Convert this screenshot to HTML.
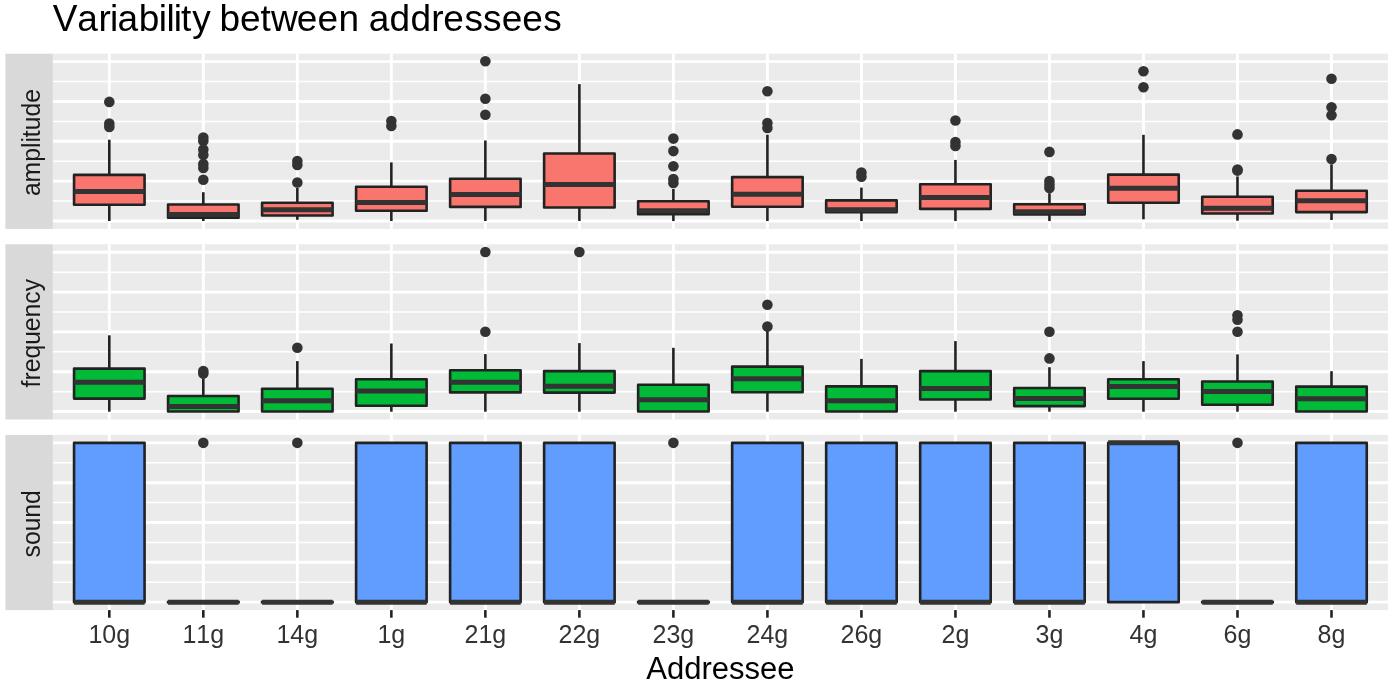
<!DOCTYPE html><html><head><meta charset="utf-8"><title>Variability between addressees</title>
<style>html,body{margin:0;padding:0;background:#fff;}body{width:1393px;height:684px;overflow:hidden;}svg{display:block;}text{font-family:"Liberation Sans",Arial,sans-serif;font-kerning:none;}</style></head><body>
<svg width="1393" height="684" viewBox="0 0 1393 684">
<rect x="0" y="0" width="1393" height="684" fill="#ffffff"/>
<text x="52.7 77.3 98.4 110.1 117.4 138.7 158.8 166.4 173.7 181.1 192.2 210.7 219.4 239.9 260.5 271.0 296.7 317.5 338.5 359.1 368.8 389.5 410.4 431.2 443.2 464.5 483.1 501.8 522.3 543.3" y="31.3" font-size="37" fill="#000000">Variability between addressees</text>
<rect x="5.4" y="53.7" width="47.5" height="175.2" fill="#D9D9D9"/>
<text transform="translate(39.6,142.6) rotate(-90) scale(1,1.05)" x="0" y="0" text-anchor="middle" font-size="24.7" fill="#1A1A1A">amplitude</text>
<rect x="52.9" y="53.7" width="1335" height="175.2" fill="#EBEBEB"/>
<g stroke="#FFFFFF"><line x1="52.9" x2="1387.9" y1="220.94" y2="220.94" stroke-width="2.9"/><line x1="52.9" x2="1387.9" y1="201.03" y2="201.03" stroke-width="1.5"/><line x1="52.9" x2="1387.9" y1="181.12" y2="181.12" stroke-width="2.9"/><line x1="52.9" x2="1387.9" y1="161.21" y2="161.21" stroke-width="1.5"/><line x1="52.9" x2="1387.9" y1="141.3" y2="141.3" stroke-width="2.9"/><line x1="52.9" x2="1387.9" y1="121.39" y2="121.39" stroke-width="1.5"/><line x1="52.9" x2="1387.9" y1="101.48" y2="101.48" stroke-width="2.9"/><line x1="52.9" x2="1387.9" y1="81.57" y2="81.57" stroke-width="1.5"/><line x1="52.9" x2="1387.9" y1="61.66" y2="61.66" stroke-width="2.9"/><line x1="109.31" x2="109.31" y1="53.7" y2="228.9" stroke-width="2.9"/><line x1="203.32" x2="203.32" y1="53.7" y2="228.9" stroke-width="2.9"/><line x1="297.34" x2="297.34" y1="53.7" y2="228.9" stroke-width="2.9"/><line x1="391.35" x2="391.35" y1="53.7" y2="228.9" stroke-width="2.9"/><line x1="485.36" x2="485.36" y1="53.7" y2="228.9" stroke-width="2.9"/><line x1="579.38" x2="579.38" y1="53.7" y2="228.9" stroke-width="2.9"/><line x1="673.39" x2="673.39" y1="53.7" y2="228.9" stroke-width="2.9"/><line x1="767.41" x2="767.41" y1="53.7" y2="228.9" stroke-width="2.9"/><line x1="861.42" x2="861.42" y1="53.7" y2="228.9" stroke-width="2.9"/><line x1="955.44" x2="955.44" y1="53.7" y2="228.9" stroke-width="2.9"/><line x1="1049.45" x2="1049.45" y1="53.7" y2="228.9" stroke-width="2.9"/><line x1="1143.46" x2="1143.46" y1="53.7" y2="228.9" stroke-width="2.9"/><line x1="1237.48" x2="1237.48" y1="53.7" y2="228.9" stroke-width="2.9"/><line x1="1331.49" x2="1331.49" y1="53.7" y2="228.9" stroke-width="2.9"/></g>
<rect x="5.4" y="244.3" width="47.5" height="175.2" fill="#D9D9D9"/>
<text transform="translate(39.6,333.2) rotate(-90) scale(1,1.05)" x="0" y="0" text-anchor="middle" font-size="24.7" fill="#1A1A1A">frequency</text>
<rect x="52.9" y="244.3" width="1335" height="175.2" fill="#EBEBEB"/>
<g stroke="#FFFFFF"><line x1="52.9" x2="1387.9" y1="411.54" y2="411.54" stroke-width="2.9"/><line x1="52.9" x2="1387.9" y1="391.63" y2="391.63" stroke-width="1.5"/><line x1="52.9" x2="1387.9" y1="371.72" y2="371.72" stroke-width="2.9"/><line x1="52.9" x2="1387.9" y1="351.81" y2="351.81" stroke-width="1.5"/><line x1="52.9" x2="1387.9" y1="331.9" y2="331.9" stroke-width="2.9"/><line x1="52.9" x2="1387.9" y1="311.99" y2="311.99" stroke-width="1.5"/><line x1="52.9" x2="1387.9" y1="292.08" y2="292.08" stroke-width="2.9"/><line x1="52.9" x2="1387.9" y1="272.17" y2="272.17" stroke-width="1.5"/><line x1="52.9" x2="1387.9" y1="252.26" y2="252.26" stroke-width="2.9"/><line x1="109.31" x2="109.31" y1="244.3" y2="419.5" stroke-width="2.9"/><line x1="203.32" x2="203.32" y1="244.3" y2="419.5" stroke-width="2.9"/><line x1="297.34" x2="297.34" y1="244.3" y2="419.5" stroke-width="2.9"/><line x1="391.35" x2="391.35" y1="244.3" y2="419.5" stroke-width="2.9"/><line x1="485.36" x2="485.36" y1="244.3" y2="419.5" stroke-width="2.9"/><line x1="579.38" x2="579.38" y1="244.3" y2="419.5" stroke-width="2.9"/><line x1="673.39" x2="673.39" y1="244.3" y2="419.5" stroke-width="2.9"/><line x1="767.41" x2="767.41" y1="244.3" y2="419.5" stroke-width="2.9"/><line x1="861.42" x2="861.42" y1="244.3" y2="419.5" stroke-width="2.9"/><line x1="955.44" x2="955.44" y1="244.3" y2="419.5" stroke-width="2.9"/><line x1="1049.45" x2="1049.45" y1="244.3" y2="419.5" stroke-width="2.9"/><line x1="1143.46" x2="1143.46" y1="244.3" y2="419.5" stroke-width="2.9"/><line x1="1237.48" x2="1237.48" y1="244.3" y2="419.5" stroke-width="2.9"/><line x1="1331.49" x2="1331.49" y1="244.3" y2="419.5" stroke-width="2.9"/></g>
<rect x="5.4" y="434.9" width="47.5" height="175.2" fill="#D9D9D9"/>
<text transform="translate(39.6,523.8) rotate(-90) scale(1,1.05)" x="0" y="0" text-anchor="middle" font-size="24.7" fill="#1A1A1A">sound</text>
<rect x="52.9" y="434.9" width="1335" height="175.2" fill="#EBEBEB"/>
<g stroke="#FFFFFF"><line x1="52.9" x2="1387.9" y1="602.14" y2="602.14" stroke-width="2.9"/><line x1="52.9" x2="1387.9" y1="582.23" y2="582.23" stroke-width="1.5"/><line x1="52.9" x2="1387.9" y1="562.32" y2="562.32" stroke-width="2.9"/><line x1="52.9" x2="1387.9" y1="542.41" y2="542.41" stroke-width="1.5"/><line x1="52.9" x2="1387.9" y1="522.5" y2="522.5" stroke-width="2.9"/><line x1="52.9" x2="1387.9" y1="502.59" y2="502.59" stroke-width="1.5"/><line x1="52.9" x2="1387.9" y1="482.68" y2="482.68" stroke-width="2.9"/><line x1="52.9" x2="1387.9" y1="462.77" y2="462.77" stroke-width="1.5"/><line x1="52.9" x2="1387.9" y1="442.86" y2="442.86" stroke-width="2.9"/><line x1="109.31" x2="109.31" y1="434.9" y2="610.1" stroke-width="2.9"/><line x1="203.32" x2="203.32" y1="434.9" y2="610.1" stroke-width="2.9"/><line x1="297.34" x2="297.34" y1="434.9" y2="610.1" stroke-width="2.9"/><line x1="391.35" x2="391.35" y1="434.9" y2="610.1" stroke-width="2.9"/><line x1="485.36" x2="485.36" y1="434.9" y2="610.1" stroke-width="2.9"/><line x1="579.38" x2="579.38" y1="434.9" y2="610.1" stroke-width="2.9"/><line x1="673.39" x2="673.39" y1="434.9" y2="610.1" stroke-width="2.9"/><line x1="767.41" x2="767.41" y1="434.9" y2="610.1" stroke-width="2.9"/><line x1="861.42" x2="861.42" y1="434.9" y2="610.1" stroke-width="2.9"/><line x1="955.44" x2="955.44" y1="434.9" y2="610.1" stroke-width="2.9"/><line x1="1049.45" x2="1049.45" y1="434.9" y2="610.1" stroke-width="2.9"/><line x1="1143.46" x2="1143.46" y1="434.9" y2="610.1" stroke-width="2.9"/><line x1="1237.48" x2="1237.48" y1="434.9" y2="610.1" stroke-width="2.9"/><line x1="1331.49" x2="1331.49" y1="434.9" y2="610.1" stroke-width="2.9"/></g>
<g stroke="#222222" stroke-width="2.6" stroke-linejoin="round">
<line x1="109.31" x2="109.31" y1="139.7" y2="174.9"/><line x1="109.31" x2="109.31" y1="204.8" y2="221"/><rect x="74.05" y="174.9" width="70.51" height="29.9" fill="#F8766D"/><line x1="74.05" x2="144.56" y1="191.5" y2="191.5" stroke="#333333" stroke-width="5.0"/><circle cx="109.31" cy="101.9" r="5.3" fill="#333333" stroke="none"/><circle cx="109.31" cy="123.5" r="5.3" fill="#333333" stroke="none"/><circle cx="109.31" cy="127" r="5.3" fill="#333333" stroke="none"/>
<line x1="109.31" x2="109.31" y1="335.3" y2="368.6"/><line x1="109.31" x2="109.31" y1="398.6" y2="411.7"/><rect x="74.05" y="368.6" width="70.51" height="30" fill="#00BA38"/><line x1="74.05" x2="144.56" y1="382.35" y2="382.35" stroke="#333333" stroke-width="5.0"/>
<rect x="74.05" y="442.86" width="70.51" height="159.28" fill="#619CFF"/><line x1="74.05" x2="144.56" y1="602.14" y2="602.14" stroke="#333333" stroke-width="5.0"/>
<line x1="203.32" x2="203.32" y1="192.2" y2="204.5"/><line x1="203.32" x2="203.32" y1="217.7" y2="221"/><rect x="168.07" y="204.5" width="70.51" height="13.2" fill="#F8766D"/><line x1="168.07" x2="238.58" y1="214.5" y2="214.5" stroke="#333333" stroke-width="5.0"/><circle cx="203.32" cy="137.5" r="5.3" fill="#333333" stroke="none"/><circle cx="203.32" cy="141" r="5.3" fill="#333333" stroke="none"/><circle cx="203.32" cy="149.5" r="5.3" fill="#333333" stroke="none"/><circle cx="203.32" cy="155" r="5.3" fill="#333333" stroke="none"/><circle cx="203.32" cy="164" r="5.3" fill="#333333" stroke="none"/><circle cx="203.32" cy="168" r="5.3" fill="#333333" stroke="none"/><circle cx="203.32" cy="179.8" r="5.3" fill="#333333" stroke="none"/>
<line x1="203.32" x2="203.32" y1="378.4" y2="396"/><rect x="168.07" y="396" width="70.51" height="15.56" fill="#00BA38"/><line x1="168.07" x2="238.58" y1="406.5" y2="406.5" stroke="#333333" stroke-width="5.0"/><circle cx="203.32" cy="371" r="5.3" fill="#333333" stroke="none"/><circle cx="203.32" cy="373.6" r="5.3" fill="#333333" stroke="none"/>
<line x1="168.07" x2="238.58" y1="602.14" y2="602.14" stroke-linecap="square"/><line x1="168.07" x2="238.58" y1="602.14" y2="602.14" stroke="#333333" stroke-width="5.0"/><circle cx="203.32" cy="442.86" r="5.3" fill="#333333" stroke="none"/>
<line x1="297.34" x2="297.34" y1="187.8" y2="202.8"/><line x1="297.34" x2="297.34" y1="215.55" y2="219.8"/><rect x="262.08" y="202.8" width="70.51" height="12.75" fill="#F8766D"/><line x1="262.08" x2="332.59" y1="209.7" y2="209.7" stroke="#333333" stroke-width="5.0"/><circle cx="297.34" cy="161" r="5.3" fill="#333333" stroke="none"/><circle cx="297.34" cy="165" r="5.3" fill="#333333" stroke="none"/><circle cx="297.34" cy="182.5" r="5.3" fill="#333333" stroke="none"/>
<line x1="297.34" x2="297.34" y1="361.1" y2="388.7"/><rect x="262.08" y="388.7" width="70.51" height="22.86" fill="#00BA38"/><line x1="262.08" x2="332.59" y1="400.65" y2="400.65" stroke="#333333" stroke-width="5.0"/><circle cx="297.34" cy="347.8" r="5.3" fill="#333333" stroke="none"/>
<line x1="262.08" x2="332.59" y1="602.14" y2="602.14" stroke-linecap="square"/><line x1="262.08" x2="332.59" y1="602.14" y2="602.14" stroke="#333333" stroke-width="5.0"/><circle cx="297.34" cy="442.86" r="5.3" fill="#333333" stroke="none"/>
<line x1="391.35" x2="391.35" y1="162.4" y2="186.8"/><line x1="391.35" x2="391.35" y1="210.8" y2="221"/><rect x="356.1" y="186.8" width="70.51" height="24" fill="#F8766D"/><line x1="356.1" x2="426.61" y1="202.5" y2="202.5" stroke="#333333" stroke-width="5.0"/><circle cx="391.35" cy="121" r="5.3" fill="#333333" stroke="none"/><circle cx="391.35" cy="126" r="5.3" fill="#333333" stroke="none"/>
<line x1="391.35" x2="391.35" y1="343.5" y2="379.2"/><line x1="391.35" x2="391.35" y1="405.7" y2="411.7"/><rect x="356.1" y="379.2" width="70.51" height="26.5" fill="#00BA38"/><line x1="356.1" x2="426.61" y1="390.95" y2="390.95" stroke="#333333" stroke-width="5.0"/>
<rect x="356.1" y="442.86" width="70.51" height="159.28" fill="#619CFF"/><line x1="356.1" x2="426.61" y1="602.14" y2="602.14" stroke="#333333" stroke-width="5.0"/>
<line x1="485.36" x2="485.36" y1="140.5" y2="178.7"/><line x1="485.36" x2="485.36" y1="206.9" y2="221"/><rect x="450.11" y="178.7" width="70.51" height="28.2" fill="#F8766D"/><line x1="450.11" x2="520.62" y1="194.5" y2="194.5" stroke="#333333" stroke-width="5.0"/><circle cx="485.36" cy="61.2" r="5.3" fill="#333333" stroke="none"/><circle cx="485.36" cy="98.7" r="5.3" fill="#333333" stroke="none"/><circle cx="485.36" cy="114.7" r="5.3" fill="#333333" stroke="none"/>
<line x1="485.36" x2="485.36" y1="354.1" y2="370.3"/><line x1="485.36" x2="485.36" y1="392.4" y2="411.7"/><rect x="450.11" y="370.3" width="70.51" height="22.1" fill="#00BA38"/><line x1="450.11" x2="520.62" y1="382.2" y2="382.2" stroke="#333333" stroke-width="5.0"/><circle cx="485.36" cy="252" r="5.3" fill="#333333" stroke="none"/><circle cx="485.36" cy="331.8" r="5.3" fill="#333333" stroke="none"/>
<rect x="450.11" y="442.86" width="70.51" height="159.28" fill="#619CFF"/><line x1="450.11" x2="520.62" y1="602.14" y2="602.14" stroke="#333333" stroke-width="5.0"/>
<line x1="579.38" x2="579.38" y1="84.1" y2="153.5"/><line x1="579.38" x2="579.38" y1="207.5" y2="221"/><rect x="544.12" y="153.5" width="70.51" height="54" fill="#F8766D"/><line x1="544.12" x2="614.63" y1="184.4" y2="184.4" stroke="#333333" stroke-width="5.0"/>
<line x1="579.38" x2="579.38" y1="343.1" y2="371.1"/><line x1="579.38" x2="579.38" y1="392.6" y2="411.7"/><rect x="544.12" y="371.1" width="70.51" height="21.5" fill="#00BA38"/><line x1="544.12" x2="614.63" y1="386.2" y2="386.2" stroke="#333333" stroke-width="5.0"/><circle cx="579.38" cy="252" r="5.3" fill="#333333" stroke="none"/>
<rect x="544.12" y="442.86" width="70.51" height="159.28" fill="#619CFF"/><line x1="544.12" x2="614.63" y1="602.14" y2="602.14" stroke="#333333" stroke-width="5.0"/>
<line x1="673.39" x2="673.39" y1="188.9" y2="201.2"/><line x1="673.39" x2="673.39" y1="214.25" y2="221"/><rect x="638.14" y="201.2" width="70.51" height="13.05" fill="#F8766D"/><line x1="638.14" x2="708.65" y1="210.65" y2="210.65" stroke="#333333" stroke-width="5.0"/><circle cx="673.39" cy="138.6" r="5.3" fill="#333333" stroke="none"/><circle cx="673.39" cy="151.1" r="5.3" fill="#333333" stroke="none"/><circle cx="673.39" cy="166.3" r="5.3" fill="#333333" stroke="none"/><circle cx="673.39" cy="179" r="5.3" fill="#333333" stroke="none"/><circle cx="673.39" cy="183" r="5.3" fill="#333333" stroke="none"/>
<line x1="673.39" x2="673.39" y1="347.8" y2="384.8"/><rect x="638.14" y="384.8" width="70.51" height="26.76" fill="#00BA38"/><line x1="638.14" x2="708.65" y1="399.7" y2="399.7" stroke="#333333" stroke-width="5.0"/>
<line x1="638.14" x2="708.65" y1="602.14" y2="602.14" stroke-linecap="square"/><line x1="638.14" x2="708.65" y1="602.14" y2="602.14" stroke="#333333" stroke-width="5.0"/><circle cx="673.39" cy="442.86" r="5.3" fill="#333333" stroke="none"/>
<line x1="767.41" x2="767.41" y1="134.7" y2="177.1"/><line x1="767.41" x2="767.41" y1="206.8" y2="221"/><rect x="732.15" y="177.1" width="70.51" height="29.7" fill="#F8766D"/><line x1="732.15" x2="802.66" y1="194.3" y2="194.3" stroke="#333333" stroke-width="5.0"/><circle cx="767.41" cy="91.2" r="5.3" fill="#333333" stroke="none"/><circle cx="767.41" cy="123" r="5.3" fill="#333333" stroke="none"/><circle cx="767.41" cy="128" r="5.3" fill="#333333" stroke="none"/>
<line x1="767.41" x2="767.41" y1="329.1" y2="366.6"/><line x1="767.41" x2="767.41" y1="392.3" y2="411.7"/><rect x="732.15" y="366.6" width="70.51" height="25.7" fill="#00BA38"/><line x1="732.15" x2="802.66" y1="378.75" y2="378.75" stroke="#333333" stroke-width="5.0"/><circle cx="767.41" cy="304.7" r="5.3" fill="#333333" stroke="none"/><circle cx="767.41" cy="326.5" r="5.3" fill="#333333" stroke="none"/>
<rect x="732.15" y="442.86" width="70.51" height="159.28" fill="#619CFF"/><line x1="732.15" x2="802.66" y1="602.14" y2="602.14" stroke="#333333" stroke-width="5.0"/>
<line x1="861.42" x2="861.42" y1="187.6" y2="200.4"/><line x1="861.42" x2="861.42" y1="212.3" y2="221"/><rect x="826.17" y="200.4" width="70.51" height="11.9" fill="#F8766D"/><line x1="826.17" x2="896.68" y1="209.8" y2="209.8" stroke="#333333" stroke-width="5.0"/><circle cx="861.42" cy="172.5" r="5.3" fill="#333333" stroke="none"/><circle cx="861.42" cy="176.8" r="5.3" fill="#333333" stroke="none"/>
<line x1="861.42" x2="861.42" y1="358.9" y2="386.4"/><rect x="826.17" y="386.4" width="70.51" height="25.16" fill="#00BA38"/><line x1="826.17" x2="896.68" y1="400.7" y2="400.7" stroke="#333333" stroke-width="5.0"/>
<rect x="826.17" y="442.86" width="70.51" height="159.28" fill="#619CFF"/><line x1="826.17" x2="896.68" y1="602.14" y2="602.14" stroke="#333333" stroke-width="5.0"/>
<line x1="955.44" x2="955.44" y1="159.9" y2="184.2"/><line x1="955.44" x2="955.44" y1="208.9" y2="221"/><rect x="920.18" y="184.2" width="70.51" height="24.7" fill="#F8766D"/><line x1="920.18" x2="990.69" y1="197.4" y2="197.4" stroke="#333333" stroke-width="5.0"/><circle cx="955.44" cy="120.5" r="5.3" fill="#333333" stroke="none"/><circle cx="955.44" cy="142" r="5.3" fill="#333333" stroke="none"/><circle cx="955.44" cy="146" r="5.3" fill="#333333" stroke="none"/>
<line x1="955.44" x2="955.44" y1="341.1" y2="371.1"/><line x1="955.44" x2="955.44" y1="399.5" y2="411.7"/><rect x="920.18" y="371.1" width="70.51" height="28.4" fill="#00BA38"/><line x1="920.18" x2="990.69" y1="388.55" y2="388.55" stroke="#333333" stroke-width="5.0"/>
<rect x="920.18" y="442.86" width="70.51" height="159.28" fill="#619CFF"/><line x1="920.18" x2="990.69" y1="602.14" y2="602.14" stroke="#333333" stroke-width="5.0"/>
<line x1="1049.45" x2="1049.45" y1="193.2" y2="204.25"/><line x1="1049.45" x2="1049.45" y1="214.5" y2="221"/><rect x="1014.19" y="204.25" width="70.51" height="10.25" fill="#F8766D"/><line x1="1014.19" x2="1084.7" y1="211.8" y2="211.8" stroke="#333333" stroke-width="5.0"/><circle cx="1049.45" cy="151.9" r="5.3" fill="#333333" stroke="none"/><circle cx="1049.45" cy="181" r="5.3" fill="#333333" stroke="none"/><circle cx="1049.45" cy="184.5" r="5.3" fill="#333333" stroke="none"/><circle cx="1049.45" cy="188" r="5.3" fill="#333333" stroke="none"/>
<line x1="1049.45" x2="1049.45" y1="367.2" y2="388"/><line x1="1049.45" x2="1049.45" y1="406.1" y2="411.7"/><rect x="1014.19" y="388" width="70.51" height="18.1" fill="#00BA38"/><line x1="1014.19" x2="1084.7" y1="398.5" y2="398.5" stroke="#333333" stroke-width="5.0"/><circle cx="1049.45" cy="331.8" r="5.3" fill="#333333" stroke="none"/><circle cx="1049.45" cy="358.4" r="5.3" fill="#333333" stroke="none"/>
<rect x="1014.19" y="442.86" width="70.51" height="159.28" fill="#619CFF"/><line x1="1014.19" x2="1084.7" y1="602.14" y2="602.14" stroke="#333333" stroke-width="5.0"/>
<line x1="1143.46" x2="1143.46" y1="134.8" y2="174.6"/><line x1="1143.46" x2="1143.46" y1="202.7" y2="219.3"/><rect x="1108.21" y="174.6" width="70.51" height="28.1" fill="#F8766D"/><line x1="1108.21" x2="1178.72" y1="188.35" y2="188.35" stroke="#333333" stroke-width="5.0"/><circle cx="1143.46" cy="71.3" r="5.3" fill="#333333" stroke="none"/><circle cx="1143.46" cy="87.3" r="5.3" fill="#333333" stroke="none"/>
<line x1="1143.46" x2="1143.46" y1="361.1" y2="379.2"/><line x1="1143.46" x2="1143.46" y1="398.8" y2="411.7"/><rect x="1108.21" y="379.2" width="70.51" height="19.6" fill="#00BA38"/><line x1="1108.21" x2="1178.72" y1="386.5" y2="386.5" stroke="#333333" stroke-width="5.0"/>
<rect x="1108.21" y="442.86" width="70.51" height="159.28" fill="#619CFF"/><line x1="1108.21" x2="1178.72" y1="442.86" y2="442.86" stroke="#333333" stroke-width="5.0"/>
<line x1="1237.48" x2="1237.48" y1="176.4" y2="196.7"/><line x1="1237.48" x2="1237.48" y1="213.5" y2="220.7"/><rect x="1202.22" y="196.7" width="70.51" height="16.8" fill="#F8766D"/><line x1="1202.22" x2="1272.73" y1="208.25" y2="208.25" stroke="#333333" stroke-width="5.0"/><circle cx="1237.48" cy="134.4" r="5.3" fill="#333333" stroke="none"/><circle cx="1237.48" cy="169.6" r="5.3" fill="#333333" stroke="none"/><circle cx="1237.48" cy="170.6" r="5.3" fill="#333333" stroke="none"/>
<line x1="1237.48" x2="1237.48" y1="354.4" y2="381.5"/><line x1="1237.48" x2="1237.48" y1="404.8" y2="411.7"/><rect x="1202.22" y="381.5" width="70.51" height="23.3" fill="#00BA38"/><line x1="1202.22" x2="1272.73" y1="391.45" y2="391.45" stroke="#333333" stroke-width="5.0"/><circle cx="1237.48" cy="315.3" r="5.3" fill="#333333" stroke="none"/><circle cx="1237.48" cy="319.8" r="5.3" fill="#333333" stroke="none"/><circle cx="1237.48" cy="331.8" r="5.3" fill="#333333" stroke="none"/>
<line x1="1202.22" x2="1272.73" y1="602.14" y2="602.14" stroke-linecap="square"/><line x1="1202.22" x2="1272.73" y1="602.14" y2="602.14" stroke="#333333" stroke-width="5.0"/><circle cx="1237.48" cy="442.86" r="5.3" fill="#333333" stroke="none"/>
<line x1="1331.49" x2="1331.49" y1="164.4" y2="190.8"/><line x1="1331.49" x2="1331.49" y1="212.1" y2="220"/><rect x="1296.24" y="190.8" width="70.51" height="21.3" fill="#F8766D"/><line x1="1296.24" x2="1366.75" y1="200.8" y2="200.8" stroke="#333333" stroke-width="5.0"/><circle cx="1331.49" cy="78.7" r="5.3" fill="#333333" stroke="none"/><circle cx="1331.49" cy="107.2" r="5.3" fill="#333333" stroke="none"/><circle cx="1331.49" cy="115.2" r="5.3" fill="#333333" stroke="none"/><circle cx="1331.49" cy="159.1" r="5.3" fill="#333333" stroke="none"/>
<line x1="1331.49" x2="1331.49" y1="371.2" y2="386.6"/><rect x="1296.24" y="386.6" width="70.51" height="24.96" fill="#00BA38"/><line x1="1296.24" x2="1366.75" y1="398.7" y2="398.7" stroke="#333333" stroke-width="5.0"/>
<rect x="1296.24" y="442.86" width="70.51" height="159.28" fill="#619CFF"/><line x1="1296.24" x2="1366.75" y1="602.14" y2="602.14" stroke="#333333" stroke-width="5.0"/>
</g>
<g stroke="#222222" stroke-width="2.6"><line x1="109.31" x2="109.31" y1="610.1" y2="617.7"/><line x1="203.32" x2="203.32" y1="610.1" y2="617.7"/><line x1="297.34" x2="297.34" y1="610.1" y2="617.7"/><line x1="391.35" x2="391.35" y1="610.1" y2="617.7"/><line x1="485.36" x2="485.36" y1="610.1" y2="617.7"/><line x1="579.38" x2="579.38" y1="610.1" y2="617.7"/><line x1="673.39" x2="673.39" y1="610.1" y2="617.7"/><line x1="767.41" x2="767.41" y1="610.1" y2="617.7"/><line x1="861.42" x2="861.42" y1="610.1" y2="617.7"/><line x1="955.44" x2="955.44" y1="610.1" y2="617.7"/><line x1="1049.45" x2="1049.45" y1="610.1" y2="617.7"/><line x1="1143.46" x2="1143.46" y1="610.1" y2="617.7"/><line x1="1237.48" x2="1237.48" y1="610.1" y2="617.7"/><line x1="1331.49" x2="1331.49" y1="610.1" y2="617.7"/></g>
<g font-size="25" fill="#333333" text-anchor="middle"><text x="109.31" y="642.8">10g</text><text x="203.32" y="642.8">11g</text><text x="297.34" y="642.8">14g</text><text x="391.35" y="642.8">1g</text><text x="485.36" y="642.8">21g</text><text x="579.38" y="642.8">22g</text><text x="673.39" y="642.8">23g</text><text x="767.41" y="642.8">24g</text><text x="861.42" y="642.8">26g</text><text x="955.44" y="642.8">2g</text><text x="1049.45" y="642.8">3g</text><text x="1143.46" y="642.8">4g</text><text x="1237.48" y="642.8">6g</text><text x="1331.49" y="642.8">8g</text></g>
<text x="720.4" y="678.5" font-size="31" fill="#000000" text-anchor="middle">Addressee</text>
</svg></body></html>
